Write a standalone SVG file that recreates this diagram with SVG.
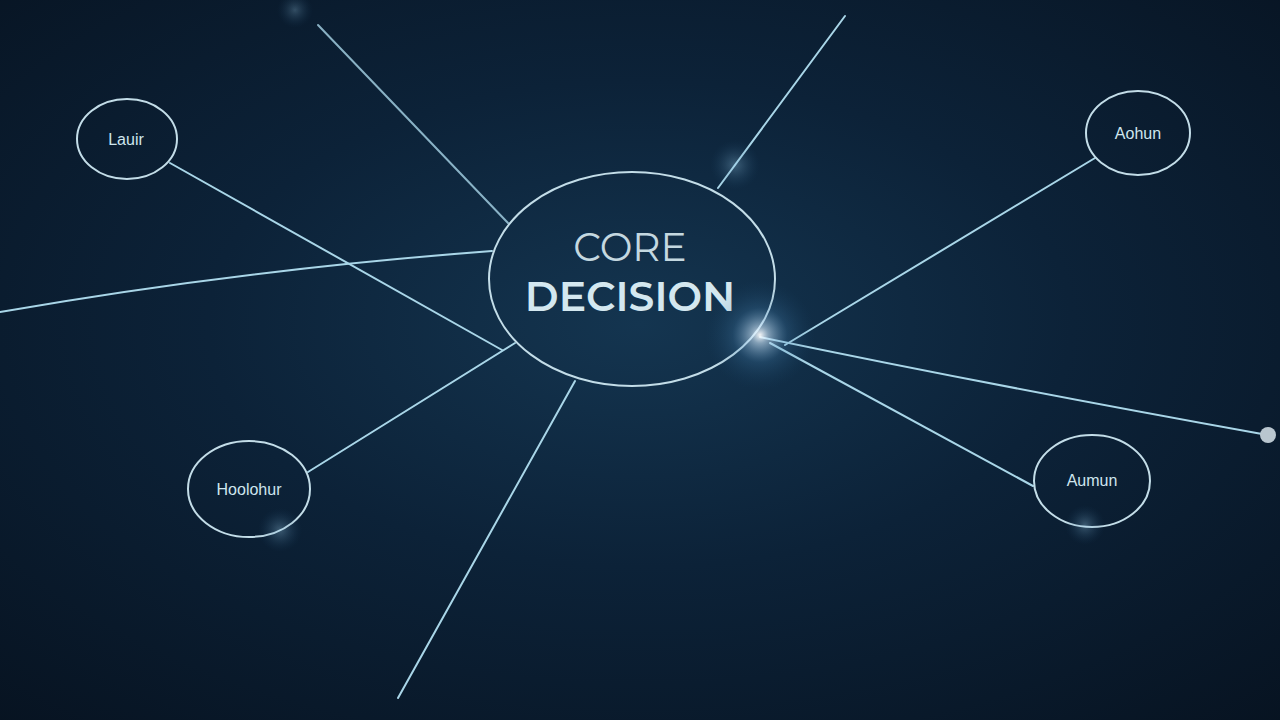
<svg xmlns="http://www.w3.org/2000/svg" width="1280" height="720" viewBox="0 0 1280 720">
<defs>
<radialGradient id="bg" cx="0.5" cy="0.45" r="0.75">
<stop offset="0" stop-color="#143550"/>
<stop offset="0.45" stop-color="#0c2238"/>
<stop offset="1" stop-color="#071321"/>
</radialGradient>
<radialGradient id="glow" cx="0.5" cy="0.5" r="0.5">
<stop offset="0" stop-color="#ffffff" stop-opacity="0.95"/>
<stop offset="0.15" stop-color="#cfeaff" stop-opacity="0.6"/>
<stop offset="0.5" stop-color="#4f8fc0" stop-opacity="0.22"/>
<stop offset="1" stop-color="#1b4a70" stop-opacity="0"/>
</radialGradient>
<radialGradient id="softglow" cx="0.5" cy="0.5" r="0.5">
<stop offset="0" stop-color="#9fd2f0" stop-opacity="0.55"/>
<stop offset="1" stop-color="#1b4a70" stop-opacity="0"/>
</radialGradient>
<style>
.link{fill:none;stroke:#a9d6e8;stroke-width:2;stroke-linecap:round}
.node{fill:none;stroke:#c3dde8;stroke-width:2}
.lbl{font-family:"Liberation Sans",Arial,sans-serif;font-size:16px;fill:#cfe6ee;text-anchor:middle}
.core{font-family:Montserrat,"Open Sans","Liberation Sans",sans-serif;text-anchor:middle}
</style>
</defs>
<rect width="1280" height="720" fill="url(#bg)"/>
<g id="connectors">
<path class="link" d="M318,25 L508,223" opacity="0.8"/>
<path class="link" d="M845,16 L718,188"/>
<path class="link" d="M0,312 Q240,270 492,251"/>
<path class="link" d="M170,163 L502,350"/>
<path class="link" d="M308,472 L515,343"/>
<path class="link" d="M575,381 L398,698"/>
<path class="link" d="M785,345 L1095,158"/>
<path class="link" d="M760,337 Q990,385 1262,434"/>
<path class="link" d="M770,343 L1033,486"/>
<circle cx="1268" cy="435" r="8" fill="#b9c6cf"/>
</g>
<circle cx="295" cy="10" r="18" fill="url(#softglow)" opacity="0.5"/>
<g id="core">
<ellipse class="node" cx="632" cy="279" rx="143" ry="107"/>
<text class="core" x="630" y="261" font-size="39" font-weight="400" fill="#c4d8e0">CORE</text>
<text class="core" x="630" y="311" font-size="41" font-weight="600" fill="#d4e8f0">DECISION</text>
</g>
<g id="node-lauir">
<ellipse class="node" cx="127" cy="139" rx="50" ry="40"/>
<text class="lbl" x="126" y="145">Lauir</text>
</g>
<g id="node-aohun">
<ellipse class="node" cx="1138" cy="133" rx="52" ry="42"/>
<text class="lbl" x="1138" y="139">Aohun</text>
</g>
<g id="node-hoolohur">
<ellipse class="node" cx="249" cy="489" rx="61" ry="48"/>
<text class="lbl" x="249" y="495">Hoolohur</text>
</g>
<g id="node-aumun">
<ellipse class="node" cx="1092" cy="481" rx="58" ry="46"/>
<text class="lbl" x="1092" y="486">Aumun</text>
</g>
<circle cx="760" cy="335" r="55" fill="url(#glow)"/>
<circle cx="735" cy="165" r="25" fill="url(#softglow)" opacity="0.6"/>
<circle cx="280" cy="530" r="22" fill="url(#softglow)" opacity="0.6"/>
<circle cx="1085" cy="525" r="20" fill="url(#softglow)" opacity="0.6"/>
</svg>
